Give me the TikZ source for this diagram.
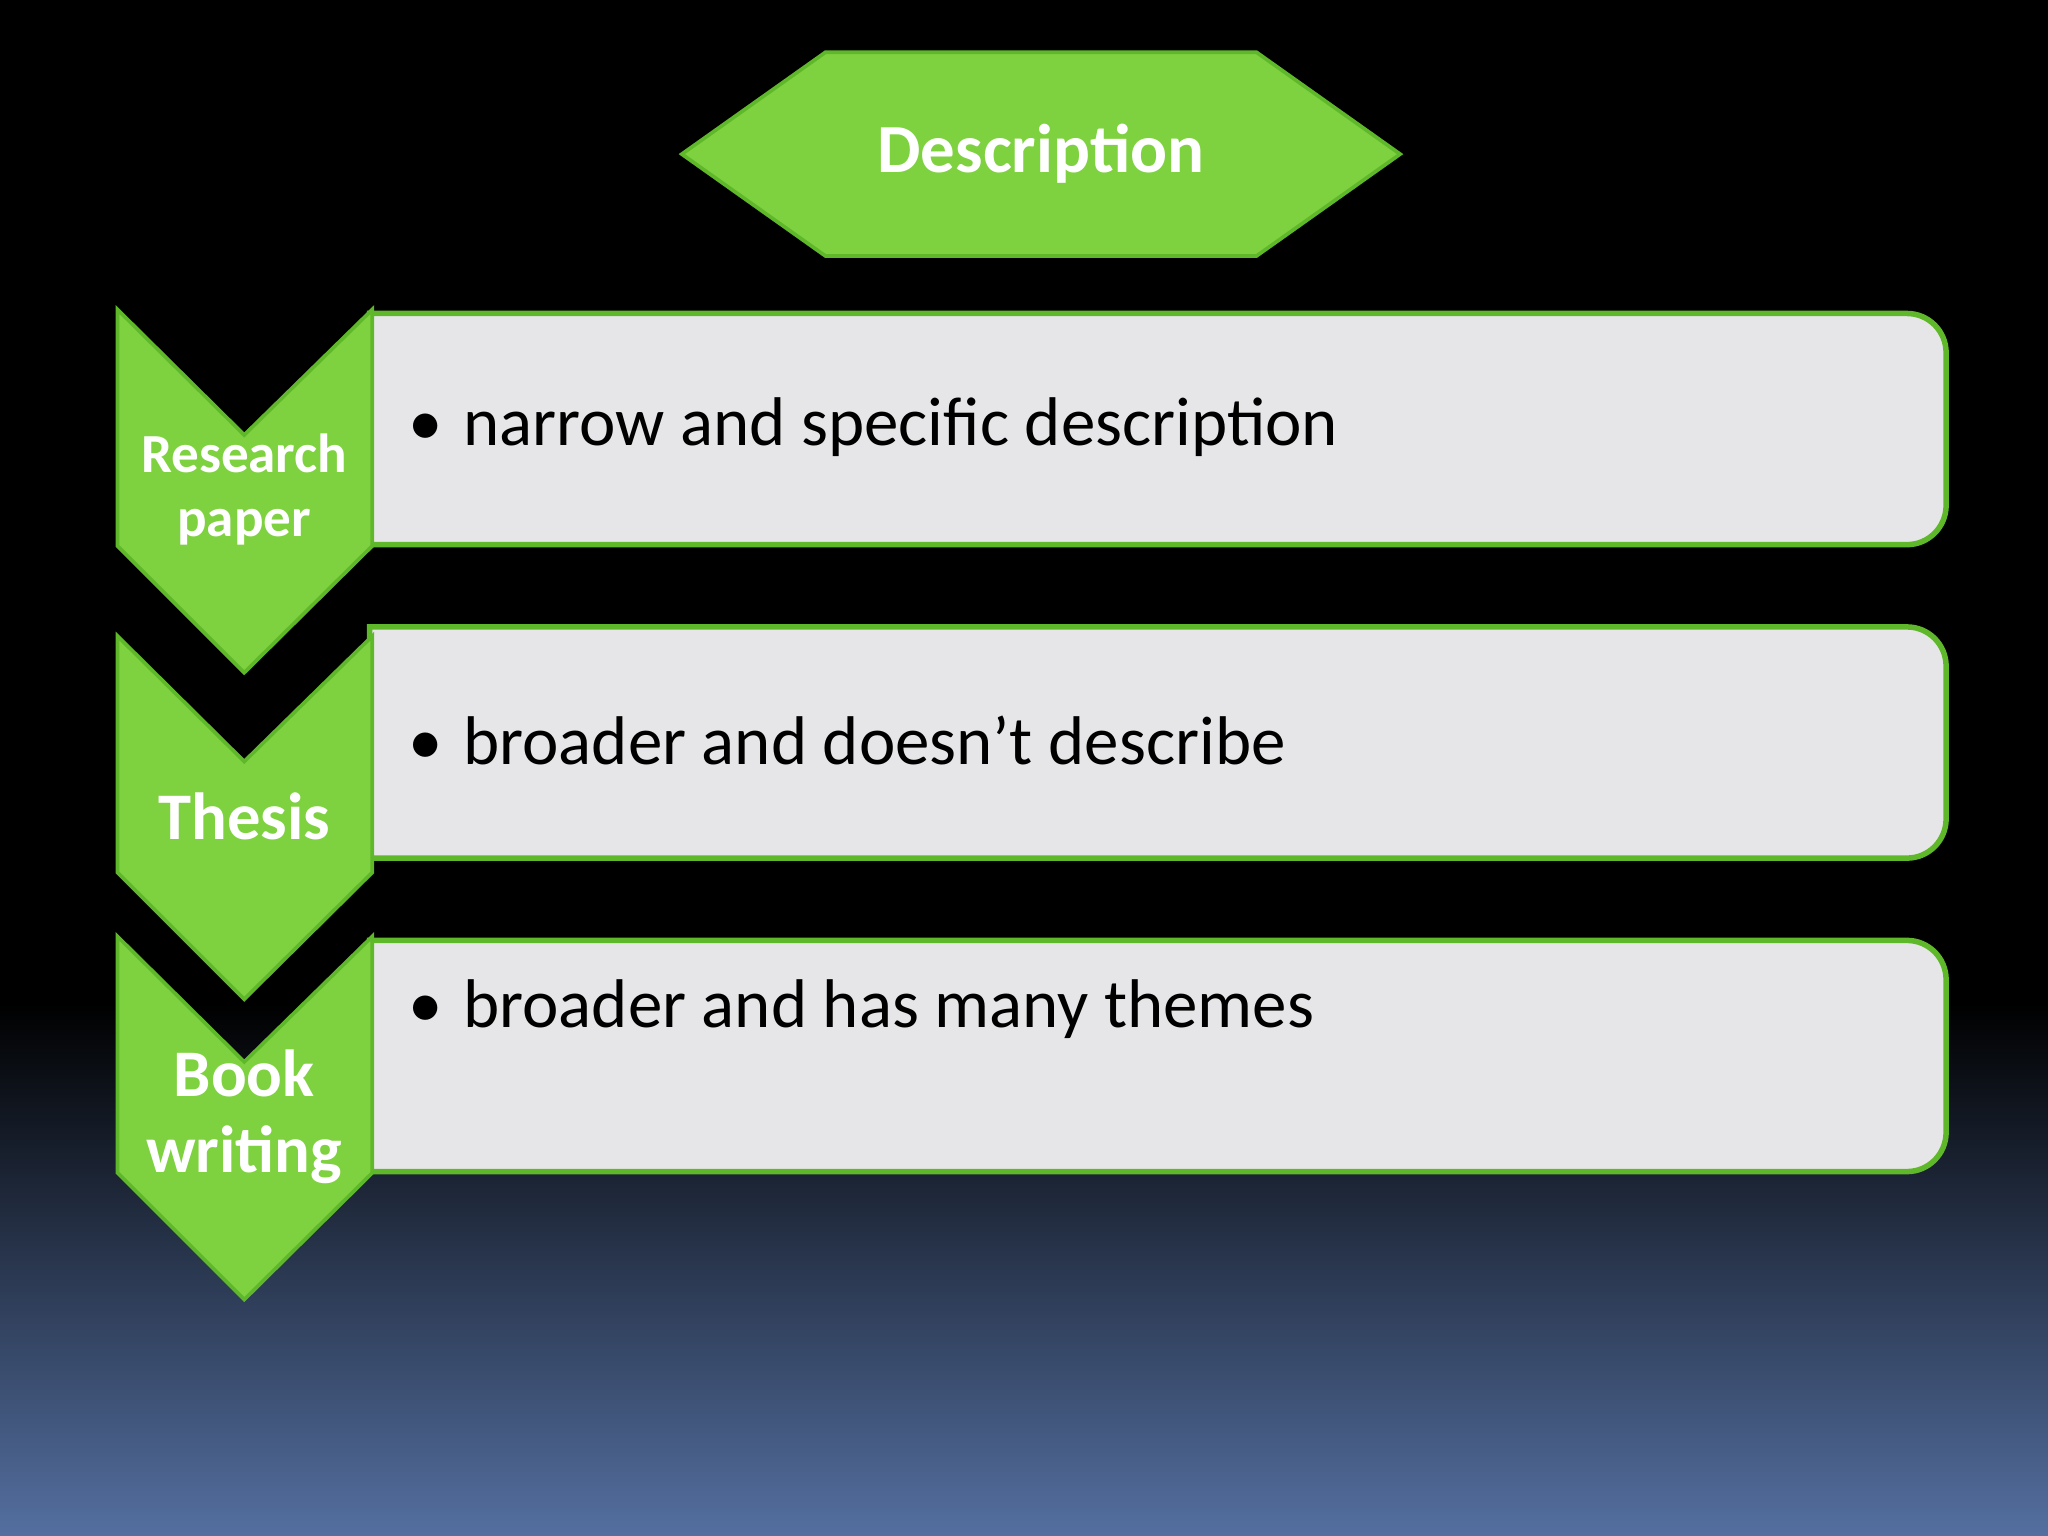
\documentclass[tikz,border=0pt]{standalone}
\usepackage{fontspec}
\setmainfont{Carlito}
\definecolor{gfill}{HTML}{7ED13F}
\definecolor{gline}{HTML}{5FB82A}
\definecolor{boxfill}{HTML}{E6E6E8}
\definecolor{bluebot}{HTML}{546FA0}
\begin{document}
\begin{tikzpicture}[x=0.01cm,y=-0.01cm,
  chev/.style={fill=gfill,draw=gline,line width=0.8pt},
  itembox/.style={fill=boxfill,draw=gline,line width=1.2pt},
  lbl/.style={text=white,font=\bfseries,align=center,inner sep=0pt},
  itm/.style={anchor=west,font=\fontsize{15}{17}\selectfont,text=black,inner sep=0pt}]
\useasboundingbox (0,0) rectangle (1568,1176);
\fill[black] (0,0) rectangle (1568,770);
\shade[top color=black,bottom color=bluebot] (0,768) rectangle (1568,1176);
% header
\draw[chev] (522,118) -- (632,40) -- (962,40) -- (1072,118) -- (962,196) -- (632,196) -- cycle;
\node[lbl,font=\bfseries\fontsize{15}{18}\selectfont] (hd) at (797,118) {Description};
% boxes
\foreach \t/\n in {240/b1,480/b2,720/b3}{
  \draw[itembox] (283,\t) -- (1460,\t) arc[start angle=-90,end angle=0,radius=30] -- (1490,\t+147) arc[start angle=0,end angle=90,radius=30] -- (283,\t+177) -- cycle;
}
% chevrons
\foreach \t in {237,487,717}{
  \draw[chev] (90,\t) -- (187,\t+96) -- (285,\t) -- (285,\t+181) -- (187,\t+278) -- (90,\t+181) -- cycle;
}
\node[lbl,font=\bfseries\fontsize{12}{14}\selectfont] (l1) at (187,375) {Research\\paper};
\node[lbl,font=\bfseries\fontsize{14.5}{16.5}\selectfont] (l2) at (187,625) {Thesis};
\node[lbl,font=\bfseries\fontsize{14.5}{16.5}\selectfont] (l3) at (187,855) {Book\\writing};
\node[itm] (t1) at (312,327) {\textbullet\hspace{0.3em}narrow and specific description};
\node[itm] (t2) at (312,567) {\textbullet\hspace{0.3em}broader and doesn’t describe};
\node[itm] (t3) at (312,773) {\textbullet\hspace{0.3em}broader and has many themes};
\end{tikzpicture}
\end{document}
